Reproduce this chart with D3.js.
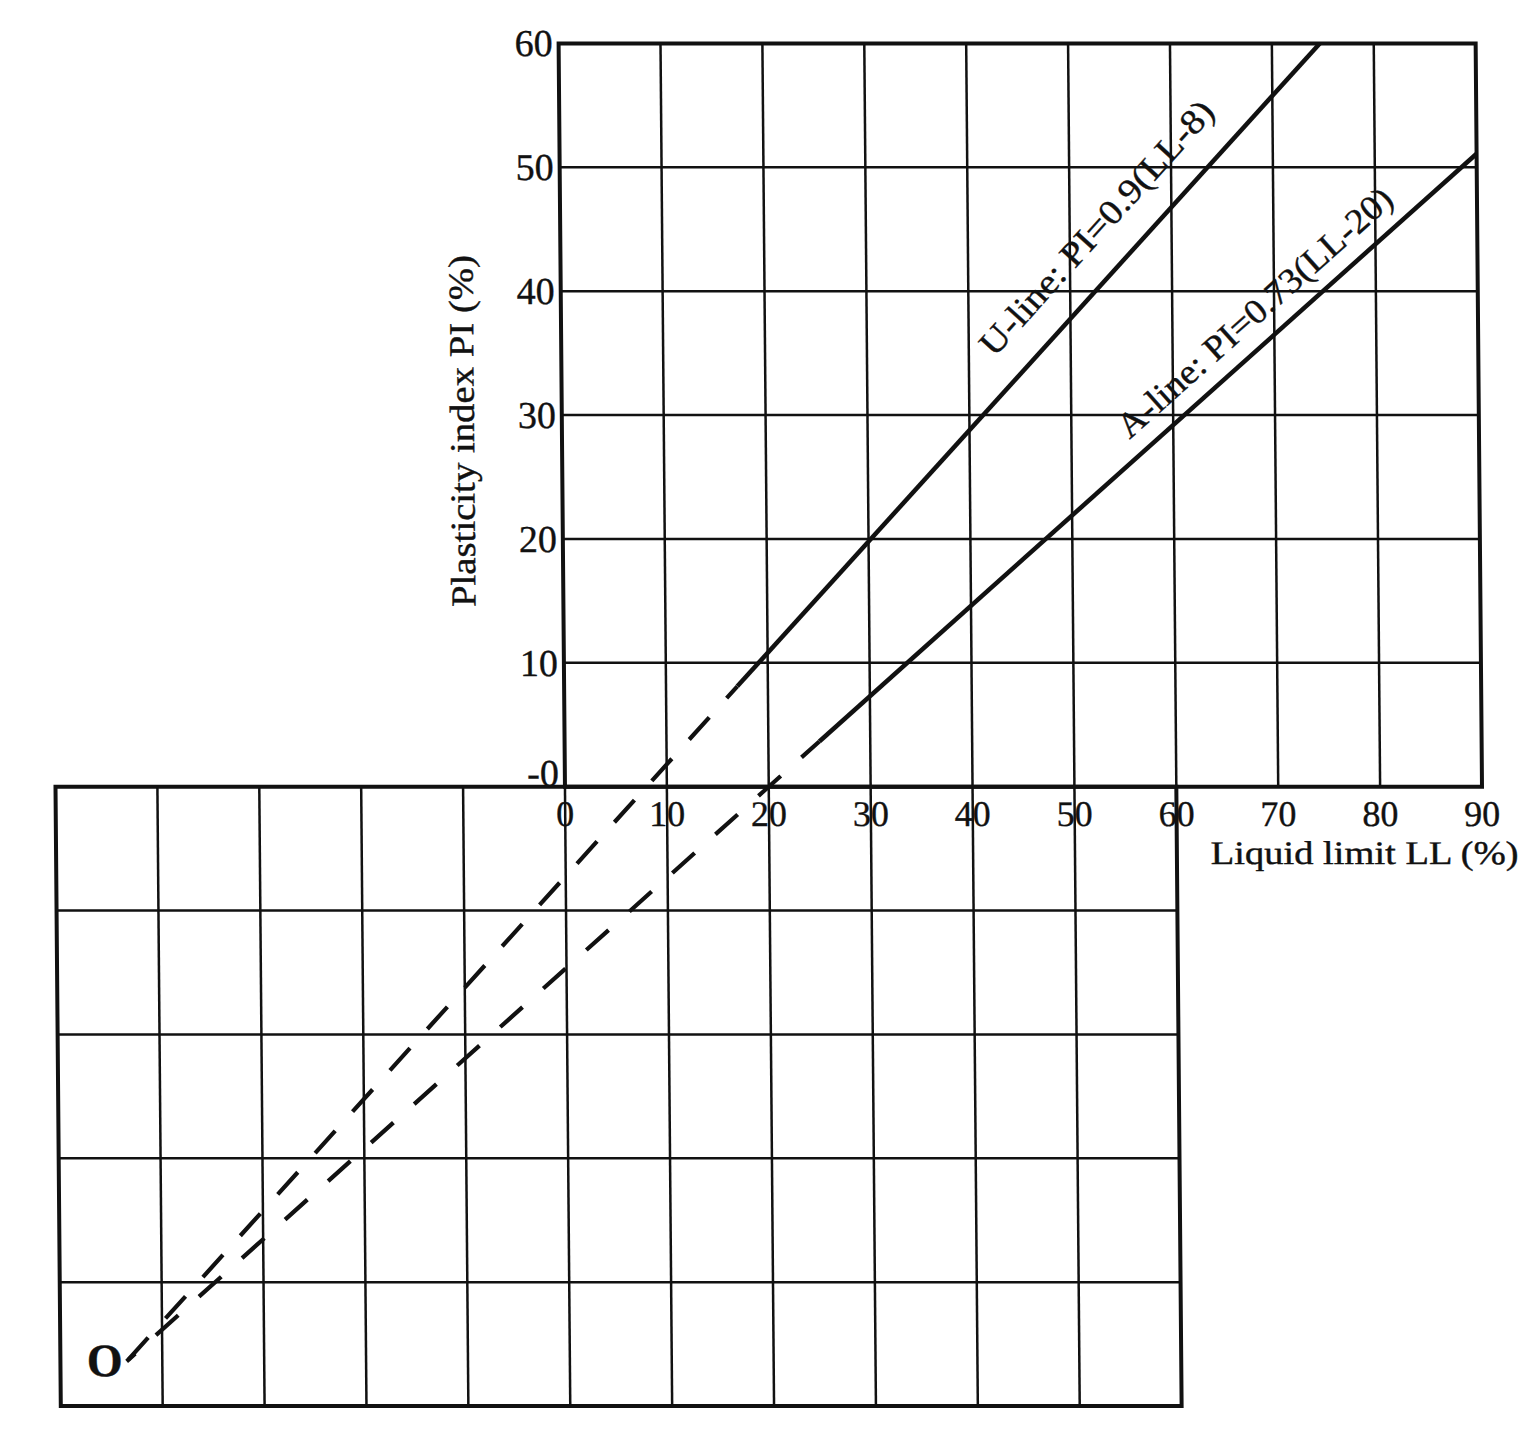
<!DOCTYPE html>
<html>
<head>
<meta charset="utf-8">
<script src="https://cdn.jsdelivr.net/npm/d3@7"></script>
<style>
  html, body { margin: 0; padding: 0; background: #fff; }
  svg { display: block; }
  text { font-family: "Liberation Serif", "DejaVu Serif", serif; fill: #111; stroke: #111; stroke-width: 0.4px; }
</style>
</head>
<body>
<svg id="chart" width="1536" height="1429"></svg>
<script>
// ---------- data ----------
const xTicks = [0, 10, 20, 30, 40, 50, 60, 70, 80, 90];
const xTickLabels = ["0", "10", "20", "30", "40", "50", "60", "70", "80", "90"];
const yTicks = [0, 10, 20, 30, 40, 50, 60];
const yTickLabels = ["-0", "10", "20", "30", "40", "50", "60"];

// upper chart grid (LL 0..90, PI 0..60)
const upperGridLL = [10, 20, 30, 40, 50, 60, 70, 80];
const upperGridPI = [10, 20, 30, 40, 50];
// lower extension grid (LL -50..60, PI -50..0)
const lowerGridLL = [-40, -30, -20, -10, 0, 10, 20, 30, 40, 50];
const lowerGridPI = [-40, -30, -20, -10];

// line end points [LL, PI]
const uSolid = [[17, 8.1], [74.7, 60]];
const uDashed = [[-43.5, -46.4], [17, 8.1]];
const aSolid = [[25, 3.65], [90, 51.1]];
const aDashed = [[-43.5, -46.4], [25, 3.65]];

// labels
const lineLabels = ["U-line: PI=0.9(LL-8)", "A-line: PI=0.73(LL-20)"];
const lineLabelAnchor = [[42.5, 34.6], [55.7, 28.0]];
const lineLabelLength = [332, 358];
const originLabel = "O";
const originAnchor = [-43.9, -47.6];
const xTitle = "Liquid limit LL (%)";
const yTitle = "Plasticity index PI (%)";

// ---------- drawing ----------
const svg = d3.select("#chart");
const x = d3.scaleLinear().domain([-50, 90]).range([55.5, 1482]);
const y = d3.scaleLinear().domain([-50, 60]).range([1406, 43.5]);

const skewDeg = 0.49;
const k = Math.tan(skewDeg * Math.PI / 180);
const g = svg.append("g")
  .attr("transform", `translate(${-k * y(0)},0) skewX(${skewDeg})`);

const ink = "#111";

// grids
const grid = g.append("g").attr("stroke", ink).attr("stroke-width", 2.5).attr("fill", "none");
grid.selectAll(".uv").data(upperGridLL).join("line")
  .attr("x1", d => x(d)).attr("x2", d => x(d)).attr("y1", y(0)).attr("y2", y(60));
grid.selectAll(".uh").data(upperGridPI).join("line")
  .attr("x1", x(0)).attr("x2", x(90)).attr("y1", d => y(d)).attr("y2", d => y(d));
grid.selectAll(".lv").data(lowerGridLL).join("line")
  .attr("x1", d => x(d)).attr("x2", d => x(d)).attr("y1", y(0)).attr("y2", y(-50));
grid.selectAll(".lh").data(lowerGridPI).join("line")
  .attr("x1", x(-50)).attr("x2", x(60)).attr("y1", d => y(d)).attr("y2", d => y(d));

// frames
const frame = g.append("g").attr("stroke", ink).attr("stroke-width", 4).attr("fill", "none");
frame.append("rect")
  .attr("x", x(0)).attr("y", y(60)).attr("width", x(90) - x(0)).attr("height", y(0) - y(60));
frame.append("rect")
  .attr("x", x(-50)).attr("y", y(0)).attr("width", x(60) - x(-50)).attr("height", y(-50) - y(0));

// U and A lines
const line = d3.line().x(d => x(d[0])).y(d => y(d[1]));
const lines = g.append("g").attr("stroke", ink).attr("fill", "none").attr("stroke-linecap", "butt");
lines.append("path").attr("d", line(uSolid)).attr("stroke-width", 4.5);
lines.append("path").attr("d", line(aSolid)).attr("stroke-width", 4.5);
lines.append("path").attr("d", line(uDashed.slice().reverse())).attr("stroke-width", 4.2)
  .attr("stroke-dasharray", "30,26").attr("stroke-dashoffset", 14);
lines.append("path").attr("d", line(aDashed.slice().reverse())).attr("stroke-width", 4.2)
  .attr("stroke-dasharray", "30,28").attr("stroke-dashoffset", 6);

// line labels rotated along their lines
const segs = [uSolid, aSolid];
lineLabels.forEach((t, i) => {
  const s = segs[i];
  const ang = Math.atan2(y(s[1][1]) - y(s[0][1]), x(s[1][0]) - x(s[0][0])) * 180 / Math.PI;
  g.append("text")
    .attr("transform", `translate(${x(lineLabelAnchor[i][0])},${y(lineLabelAnchor[i][1])}) rotate(${ang})`)
    .attr("font-size", 35)
    .attr("textLength", lineLabelLength[i])
    .attr("lengthAdjust", "spacingAndGlyphs")
    .text(t);
});

// axis tick labels
g.append("g").selectAll("text").data(xTicks).join("text")
  .attr("x", d => x(d)).attr("y", y(0) + 39)
  .attr("text-anchor", "middle").attr("font-size", 36)
  .text((d, i) => xTickLabels[i]);

g.append("g").selectAll("text").data(yTicks).join("text")
  .attr("x", x(0) - 6).attr("y", d => y(d) + (d === 0 ? -1 : 13))
  .attr("text-anchor", "end").attr("font-size", 38)
  .text((d, i) => yTickLabels[i]);

// axis titles
g.append("text")
  .attr("x", 1210).attr("y", 864)
  .attr("font-size", 33)
  .attr("textLength", 308).attr("lengthAdjust", "spacingAndGlyphs")
  .text(xTitle);

g.append("text")
  .attr("transform", `translate(477,${607}) rotate(-90)`)
  .attr("font-size", 35)
  .attr("textLength", 352).attr("lengthAdjust", "spacingAndGlyphs")
  .text(yTitle);

// origin label
g.append("text")
  .attr("x", x(originAnchor[0])).attr("y", y(originAnchor[1]))
  .attr("text-anchor", "end").attr("font-size", 46).attr("font-weight", "bold")
  .text(originLabel);
</script>
</body>
</html>
